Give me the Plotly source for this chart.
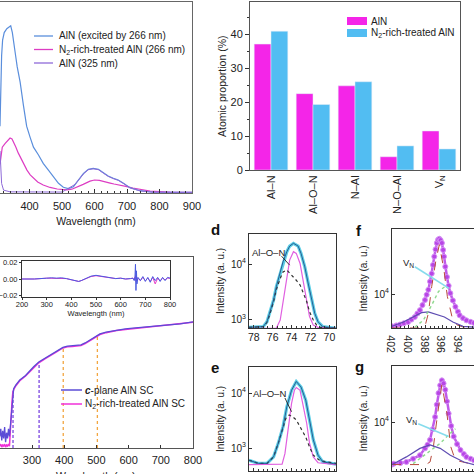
import plotly.graph_objects as go

W = H = 474
FONT = "Liberation Sans, Arial, sans-serif"

# ---------------- a: PL spectra ----------------
a_wl_blue = [309, 311, 314, 317, 322, 330, 338, 342, 347, 352, 357, 362, 371, 381, 391, 402, 412,
             427, 442, 458, 473, 489, 504, 519, 535, 550, 566, 581, 596, 612, 627, 642, 658, 673,
             689, 709, 740, 780, 900]
a_blue = [0.35, 0.62, 0.72, 0.80, 0.84, 0.86, 0.87, 0.875, 0.84, 0.79, 0.72, 0.66, 0.58, 0.46, 0.35,
          0.29, 0.24, 0.20, 0.155, 0.12, 0.085, 0.051, 0.030, 0.023, 0.033, 0.068, 0.103, 0.124,
          0.129, 0.124, 0.106, 0.089, 0.077, 0.068, 0.051, 0.028, 0.012, 0.004, 0.003]
a_wl_mag = [309, 312, 316, 325, 334, 340, 346, 352, 358, 365, 371, 381, 392, 402, 411, 425, 442,
            463, 485, 500, 515, 530, 545, 565, 586, 600, 615, 630, 648, 660, 678, 700, 718, 745,
            771, 832, 900]
a_mag = [0.15, 0.20, 0.24, 0.26, 0.277, 0.288, 0.283, 0.265, 0.24, 0.21, 0.19, 0.15, 0.12, 0.095,
         0.079, 0.058, 0.042, 0.029, 0.021, 0.017, 0.016, 0.02, 0.03, 0.045, 0.062, 0.068, 0.066,
         0.058, 0.052, 0.047, 0.042, 0.033, 0.026, 0.016, 0.010, 0.005, 0.004]
a_wl_pur = [309, 311, 314, 320, 340, 500, 540, 566, 581, 596, 612, 627, 642, 658, 673, 689, 709,
            740, 780, 900]
a_pur = [0.22, 0.12, 0.05, 0.015, 0.006, 0.005, 0.045, 0.100, 0.122, 0.127, 0.122, 0.104, 0.087,
         0.075, 0.066, 0.05, 0.027, 0.011, 0.004, 0.003]

# ---------------- b: atomic proportion ----------------
b_cats = ["Al–N", "Al–O–N", "N–Al", "N–O–Al", "V<sub>N</sub>"]
b_aln = [37.1, 22.5, 24.8, 3.9, 11.5]
b_n2 = [40.9, 19.3, 26.0, 7.1, 6.2]

# ---------------- c: absorption ----------------
c_wl = [200, 203, 206, 209, 212, 215, 218, 221, 224, 227, 230, 232, 234, 236, 238, 240, 243, 250,
        262, 280, 293, 305, 321, 340, 355, 375, 396, 410, 425, 440, 452, 465, 480, 495, 511, 530,
        550, 563, 590, 613, 660, 719, 760, 800]
c_cplane = [0.06, 0.10, 0.04, 0.09, 0.05, 0.11, 0.03, 0.08, 0.05, 0.10, 0.06, 0.10, 0.14, 0.20,
            0.25, 0.29, 0.31, 0.33, 0.356, 0.38, 0.405, 0.425, 0.45, 0.47, 0.487, 0.505, 0.527,
            0.533, 0.535, 0.536, 0.54, 0.55, 0.565, 0.582, 0.597, 0.607, 0.614, 0.618, 0.624,
            0.628, 0.635, 0.644, 0.65, 0.66]
c_n2 = [0.01, 0.02, 0.005, 0.015, 0.01, 0.02, 0.005, 0.015, 0.01, 0.02, 0.01, 0.09, 0.13, 0.19,
        0.245, 0.285, 0.305, 0.326, 0.352, 0.377, 0.40, 0.42, 0.446, 0.467, 0.484, 0.502, 0.524,
        0.53, 0.532, 0.533, 0.537, 0.547, 0.562, 0.579, 0.594, 0.604, 0.611, 0.615, 0.621,
        0.625, 0.632, 0.641, 0.648, 0.658]
c_mark_wl = [241, 322, 397, 503]
c_mark_top = [0.30, 0.45, 0.53, 0.59]
c_mark_col = ["#7B45E0", "#7B45E0", "#F2A640", "#F2A640"]
c_mark_dash = ["3px,2px", "3px,2px", "dot", "dot"]

inset_wl = [200, 250, 300, 320, 340, 360, 380, 400, 420, 430, 440, 460, 480, 500, 520, 540, 560,
            580, 600, 620, 640, 650, 655, 658, 660, 662, 664, 666, 670, 680, 690, 700, 710, 720,
            730, 740, 750, 760, 770, 780, 790, 800]
inset_cplane = [0, 0, 0.001, 0.0015, 0.001, 0.0015, 0.0005, -0.001, -0.0025, -0.003, -0.002,
                0.001, 0.0035, 0.0045, 0.0035, 0.002, 0.0015, 0.0005, 0.001, 0, 0.0005, 0.001,
                -0.002, 0.003, 0.018, -0.014, 0.01, -0.006, 0.002, -0.002, 0.003, -0.003, 0.002,
                -0.004, 0.003, -0.002, 0.002, -0.003, 0.002, -0.002, 0.002, 0.001]
inset_n2 = [0, 0, 0.001, 0.001, 0.001, 0.001, 0.0005, -0.001, -0.002, -0.003, -0.002, 0.001,
            0.003, 0.004, 0.003, 0.002, 0.001, 0.0005, 0.001, 0, 0.0005, 0.001, -0.001, 0.002,
            0.004, -0.003, 0.003, -0.002, 0.001, -0.002, 0.002, -0.002, 0.001, -0.003, 0.002,
            -0.006, 0.001, -0.002, 0.001, -0.001, 0.001, 0.001]

# ---------------- d / e: Al 2p ----------------
d_E = [78.5, 77.0, 76.6, 76.3, 75.9, 75.6, 75.2, 74.9, 74.5, 74.2, 73.8, 73.3, 73.0, 72.6, 72.25,
       71.9, 71.55, 71.2, 70.7, 69.3]
d_data = [740, 760, 930, 1330, 2290, 3980, 6760, 10970, 16600, 20890, 23440, 20890, 15490, 8910,
          4570, 2290, 1320, 930, 760, 710]
d_E_aln = [78.5, 75.6, 75.2, 74.9, 74.5, 74.2, 73.8, 73.5, 73.1, 72.8, 72.4, 72.1, 71.7, 71.2, 69.3]
d_aln = [710, 720, 1000, 2000, 5890, 11750, 16600, 15490, 10230, 5130, 2290, 1150, 810, 740, 710]
d_E_aon = [78.5, 77.0, 76.6, 76.3, 75.9, 75.6, 75.2, 74.9, 74.5, 74.2, 73.8, 73.5, 73.1, 72.8,
           72.4, 72.1, 71.7, 71.35, 71.0, 69.3]
d_aon = [740, 760, 910, 1260, 2140, 3550, 5500, 7200, 7800, 6920, 5890, 5130, 4220, 3240, 2140,
         1410, 1000, 810, 740, 710]
d_leader_E = [75.06, 74.2]
d_leader_I = [13800, 9550]

e_E = [78.5, 77.5, 76.6, 75.9, 75.4, 74.9, 74.5, 74.0, 73.5, 73.0, 72.5, 72.1, 71.7, 71.2, 70.7, 69.3]
e_data = [600, 525, 525, 690, 1230, 2450, 5620, 11220, 16220, 12880, 7410, 3240, 1410, 740, 560, 510]
e_E_aln = [78.5, 75.0, 74.7, 74.4, 74.0, 73.7, 73.5, 73.1, 72.8, 72.4, 72.1, 71.7, 71.2, 69.3]
e_aln = [500, 510, 790, 2140, 6460, 11220, 12590, 11220, 6460, 2820, 1230, 690, 540, 500]
e_E_aon = [78.5, 77.5, 76.6, 75.9, 75.4, 74.9, 74.6, 74.25, 73.9, 73.5, 73.0, 72.5, 72.1, 71.7,
           71.0, 69.3]
e_aon = [600, 525, 525, 690, 1230, 2450, 3470, 3980, 3720, 3240, 2290, 1580, 1050, 740, 590, 525]
e_leader_E = [74.7, 74.0]
e_leader_I = [8130, 4570]

# ---------------- f / g: N 1s ----------------
f_E = [402.0, 401.5, 401.05, 400.6, 400.1, 399.7, 399.3, 399.0, 398.7, 398.4, 398.1, 397.9, 397.7,
       397.5, 397.3, 397.15, 397.0, 396.85, 396.7, 396.55, 396.4, 396.25, 396.1, 395.95, 395.85,
       395.7, 395.5, 395.3, 395.1, 394.8, 394.5, 394.2, 394.0, 393.6, 393.2, 392.7, 392.3]
f_data = [4170, 4270, 4370, 4520, 4680, 5000, 5370, 5900, 6460, 7400, 8510, 9800, 11220, 14000,
          17380, 22000, 27540, 33500, 39810, 43500, 44670, 43000, 39810, 33000, 27540, 21000,
          15850, 12500, 10230, 8400, 7080, 6200, 5620, 5200, 4900, 4700, 4570]
f_E_nal = [402, 398.6, 398.1, 397.7, 397.3, 396.8, 396.4, 395.85, 395.45, 394.9, 394.3, 393.5, 392.3]
f_nal = [3980, 3980, 4170, 5890, 12300, 25120, 38020, 19050, 9330, 5370, 4320, 4070, 3980]
f_E_vn = [402, 400.65, 399.5, 398.5, 397.7, 396.7, 395.8, 394.8, 393.6, 392.3]
f_vn = [4170, 4680, 5370, 6030, 6170, 5750, 5370, 4680, 4170, 4070]
f_E_noa = [399.3, 398.3, 397.3, 396.5, 395.7, 395.3]
f_noa = [4070, 4900, 7410, 10720, 12300, 11750]
f_leader_E = [399.3, 395.3]
f_leader_I = [20900, 11750]

g_E = [402.0, 401.8, 401.0, 400.3, 399.5, 398.7, 398.1, 397.8, 397.5, 397.2, 396.9, 396.7, 396.5,
       396.3, 396.1, 395.9, 395.7, 395.5, 395.3, 395.0, 394.7, 394.3, 393.9, 393.5, 393.2, 392.7, 392.3]
g_data = [3160, 3240, 3300, 3390, 3700, 4070, 4900, 5400, 6170, 8200, 11480, 16000, 21880, 27000,
          30900, 28500, 23990, 17500, 12590, 9000, 6760, 5500, 4680, 4200, 3890, 3700, 3550]
g_E_nal = [402, 398.0, 397.5, 397.1, 396.6, 396.1, 395.5, 395.05, 394.5, 393.2, 392.3]
g_nal = [3160, 3160, 3390, 5130, 12590, 27540, 12590, 5130, 3550, 3310, 3160]
g_E_vn = [402, 400.3, 398.7, 397.5, 396.3, 395.1, 393.5, 392.3]
g_vn = [3160, 3890, 4900, 5370, 4900, 4070, 3390, 3160]
g_E_noa = [399.5, 397.9, 396.3, 395.3, 394.5]
g_noa = [3240, 4270, 5620, 7080, 8320]
g_leader_E = [398.9, 395.3]
g_leader_I = [9550, 6760]


def fx(p):
    return p / W


def fy(p):
    return 1 - p / H


def axis(**kw):
    base = dict(showgrid=False, zeroline=False, showline=True, linecolor="#333", linewidth=1,
                ticks="outside", ticklen=3, tickcolor="#333", automargin=False,
                tickfont=dict(size=11, color="#222", family=FONT))
    base.update(kw)
    return base


fig = go.Figure()


def line(x, y, ax, color, width=1.2, dash="solid"):
    fig.add_trace(go.Scatter(x=x, y=y, mode="lines", xaxis="x" + ax, yaxis="y" + ax,
                             line=dict(color=color, width=width, dash=dash), showlegend=False))


# a
line(a_wl_mag, a_mag, "", "#DD3CC3")
line(a_wl_blue, a_blue, "", "#5A8EDC")
line(a_wl_pur, a_pur, "", "#8E6AD8", 1.0)

# b
fig.add_trace(go.Bar(x=b_cats, y=b_aln, marker_color="#F425E8", xaxis="x2", yaxis="y2", showlegend=False))
fig.add_trace(go.Bar(x=b_cats, y=b_n2, marker_color="#52BDF2", xaxis="x2", yaxis="y2", showlegend=False))

# c
for wl, top, col, dsh in zip(c_mark_wl, c_mark_top, c_mark_col, c_mark_dash):
    line([wl, wl], [0, top], "3", col, 1.3, dsh)
line(c_wl, c_n2, "3", "#F030D8", 1.5)
line(c_wl, c_cplane, "3", "#5B4CD6", 1.3)
line(inset_wl, inset_n2, "4", "#E83AC8", 1.0)
line(inset_wl, inset_cplane, "4", "#4A5AE0", 1.0)

# d, e
for ax, E, dat, Ea, aln, Eo, aon, lE, lI in [
        ("5", d_E, d_data, d_E_aln, d_aln, d_E_aon, d_aon, d_leader_E, d_leader_I),
        ("6", e_E, e_data, e_E_aln, e_aln, e_E_aon, e_aon, e_leader_E, e_leader_I)]:
    line(E, dat, ax, "#5CCFE6", 3.2)
    line(Ea, aln, ax, "#E060E0", 1.2)
    line(Eo, aon, ax, "#333", 1.2, "dot")
    line(E, dat, ax, "#24508A", 0.9)
    line(lE, lI, ax, "#222", 0.9)

# f, g
for ax, E, dat, En, nal, Ev, vn, Eg, noa, lE, lI in [
        ("7", f_E, f_data, f_E_nal, f_nal, f_E_vn, f_vn, f_E_noa, f_noa, f_leader_E, f_leader_I),
        ("8", g_E, g_data, g_E_nal, g_nal, g_E_vn, g_vn, g_E_noa, g_noa, g_leader_E, g_leader_I)]:
    fig.add_trace(go.Scatter(x=E, y=dat, mode="lines+markers", xaxis="x" + ax, yaxis="y" + ax,
                             line=dict(color="#C05AEA", width=2.5),
                             marker=dict(size=5, color="#B845E6", line=dict(color="#D590F5", width=1)),
                             showlegend=False))
    line(En, nal, ax, "#B84A3C", 1.0, "dash")
    line(Ev, vn, ax, "#5E4DB2", 1.2)
    line(Eg, noa, ax, "#8ED88E", 1.4, "dot")
    line(lE, lI, ax, "#86DCEC", 1.6)

lay = dict(
    width=W, height=H, margin=dict(l=0, r=0, t=0, b=0, autoexpand=False),
    paper_bgcolor="white", plot_bgcolor="white",
    font=dict(family=FONT, size=11, color="#222"),
    barmode="group", bargap=0.2, bargroupgap=0,
)

# a axes
lay["xaxis"] = axis(domain=[0, fx(192)], range=[309, 900], anchor="y", mirror=True, linecolor="#666",
                    tickvals=[400, 500, 600, 700, 800, 900], ticks="inside", ticklen=4,
                    ticklabelstandoff=3,
                    minor=dict(dtick=20, ticks="inside", ticklen=2),
                    title=dict(text="Wavelength (nm)", font=dict(size=10.5), standoff=6))
lay["yaxis"] = axis(domain=[fy(193), fy(2)], range=[0, 1.0], anchor="x", side="right",
                    linecolor="#666", ticks="", showticklabels=False)
# b axes
lay["xaxis2"] = axis(domain=[fx(250), fx(460)], range=[-0.5, 4.5], anchor="y2", mirror=True,
                     linecolor="#555", ticks="", tickangle=-90, type="category")
lay["yaxis2"] = axis(domain=[fy(170), fy(2)], range=[0, 49.5], anchor="x2", mirror=True,
                     linecolor="#555", dtick=10, ticklen=4, minor=dict(dtick=5, ticks="outside", ticklen=2))
# c axes
lay["xaxis3"] = axis(domain=[0, fx(193)], range=[200.6, 800], anchor="y3", mirror=True, linecolor="#555",
                     dtick=100, tick0=200, ticks="inside", ticklen=3, ticklabelstandoff=2)
lay["yaxis3"] = axis(domain=[fy(448), fy(257)], range=[0, 1.0], anchor="x3", side="right",
                     linecolor="#555", ticks="", showticklabels=False)
lay["xaxis4"] = axis(domain=[fx(22), fx(170)], range=[200, 800], anchor="y4", mirror=True,
                     dtick=100, ticklen=2, tickfont=dict(size=7.5), ticklabelstandoff=-2,
                     title=dict(text="Wavelength (nm)", font=dict(size=7.5), standoff=1))
lay["yaxis4"] = axis(domain=[fy(297), fy(261)], range=[-0.022, 0.022], anchor="x4", mirror=True,
                     tickvals=[-0.02, 0, 0.02], tickformat=".2f", ticklen=2, tickfont=dict(size=7.5))
# d, e axes
for n, top, bot, yr in [("5", 234, 328, [2.857, 4.536]), ("6", 367, 471, [2.582, 4.473])]:
    lay["xaxis" + n] = axis(domain=[fx(249), fx(336)], range=[78.5, 69.3], anchor="y" + n, mirror=True,
                            tickvals=[78, 76, 74, 72, 70], ticks="inside", ticklen=3, ticklabelstandoff=-1,
                            minor=dict(dtick=0.5, ticks="inside", ticklen=2), tickfont=dict(size=10.5))
    lay["yaxis" + n] = axis(domain=[fy(bot), fy(top)], type="log", range=yr, anchor="x" + n, mirror=True,
                            tickvals=[1000, 10000], ticktext=["10<sup>3</sup>", "10<sup>4</sup>"],
                            ticks="inside", tickfont=dict(size=10),
                            title=dict(text="Intensity (a. u.)", font=dict(size=10), standoff=4))
# f, g axes
for n, top, bot, yr in [("7", 229, 328, [3.6, 4.765]), ("8", 366, 471, [3.424, 4.659])]:
    lay["xaxis" + n] = axis(domain=[fx(392), 1.0], range=[402, 392.3], anchor="y" + n, mirror=True,
                            tickvals=[402, 400, 398, 396, 394], ticks="inside", ticklen=3, ticklabelstandoff=-1,
                            minor=dict(dtick=0.5, ticks="inside", ticklen=2), tickfont=dict(size=10.5))
    lay["yaxis" + n] = axis(domain=[fy(bot), fy(top)], type="log", range=yr, anchor="x" + n,
                            tickvals=[10000], ticktext=["10<sup>4</sup>"], ticks="inside",
                            tickfont=dict(size=10),
                            title=dict(text="Intensity (a. u.)", font=dict(size=10), standoff=4))

fig.update_layout(**lay)

# hand-drawn legends (paper coordinates)
shapes = []
ann = []
a_leg = [("AlN (excited by 266 nm)", "#5A8EDC", 36),
         ("N<sub>2</sub>-rich-treated AlN (266 nm)", "#DD3CC3", 49.5),
         ("AlN (325 nm)", "#8E6AD8", 63)]
for txt, col, yy in a_leg:
    shapes.append(dict(type="line", xref="paper", yref="paper", x0=fx(34), x1=fx(53), y0=fy(yy), y1=fy(yy),
                       line=dict(color=col, width=1.3)))
    ann.append(dict(text=txt, x=fx(57), y=fy(yy), xanchor="left", yanchor="middle", showarrow=False,
                    font=dict(size=10)))
b_leg = [("AlN", "#F425E8", 21), ("N<sub>2</sub>-rich-treated AlN", "#52BDF2", 33)]
for txt, col, yy in b_leg:
    shapes.append(dict(type="rect", xref="paper", yref="paper", x0=fx(347), x1=fx(367),
                       y0=fy(yy + 4), y1=fy(yy - 4), fillcolor=col, line=dict(width=0)))
    ann.append(dict(text=txt, x=fx(369), y=fy(yy), xanchor="left", yanchor="middle", showarrow=False,
                    font=dict(size=10)))
c_leg = [("<b><i>c</i></b>-plane AlN SC", "#5B4CD6", 390), ("N<sub>2</sub>-rich-treated AlN SC", "#F030D8", 404)]
for txt, col, yy in c_leg:
    shapes.append(dict(type="line", xref="paper", yref="paper", x0=fx(61), x1=fx(82), y0=fy(yy), y1=fy(yy),
                       line=dict(color=col, width=1.5)))
    ann.append(dict(text=txt, x=fx(83), y=fy(yy), xanchor="left", yanchor="middle", showarrow=False,
                    font=dict(size=10)))

# these two titles are placed by hand, the default spot is off for them
ann.append(dict(text="Atomic proportion (%)", x=fx(222), y=fy(86), textangle=-90, showarrow=False,
                xanchor="center", yanchor="middle", font=dict(size=10.5)))
ann.append(dict(text="Wavelength (nm)", x=fx(96), y=fy(476), showarrow=False,
                xanchor="center", yanchor="middle", font=dict(size=10.5)))

# panel letters
for t, xx, yy in [("d", 215, 229), ("e", 215, 367), ("f", 359, 230), ("g", 359, 366)]:
    ann.append(dict(text="<b>" + t + "</b>", x=fx(xx), y=fy(yy), xref="paper", yref="paper",
                    xanchor="center", yanchor="middle", showarrow=False, font=dict(size=15, color="#111")))

# component labels (log axes take exponents)
ann.append(dict(text="Al–O–N", x=76.4, y=4.21, xref="x5", yref="y5", showarrow=False, font=dict(size=9.5)))
ann.append(dict(text="Al–O–N", x=76.3, y=3.99, xref="x6", yref="y6", showarrow=False, font=dict(size=9.5)))
ann.append(dict(text="V<sub>N</sub>", x=400.0, y=4.365, xref="x7", yref="y7", showarrow=False, font=dict(size=9.5)))
ann.append(dict(text="V<sub>N</sub>", x=399.75, y=4.02, xref="x8", yref="y8", showarrow=False, font=dict(size=9.5)))

for a_ in ann:
    a_.setdefault("xref", "paper")
    a_.setdefault("yref", "paper")

fig.update_layout(shapes=shapes, annotations=ann)
# page body has a default 8px margin; drop it so the 474px figure fills the window
fig.write_html("out.html", config={"displayModeBar": False},
               post_script="document.body.style.margin='0';")
